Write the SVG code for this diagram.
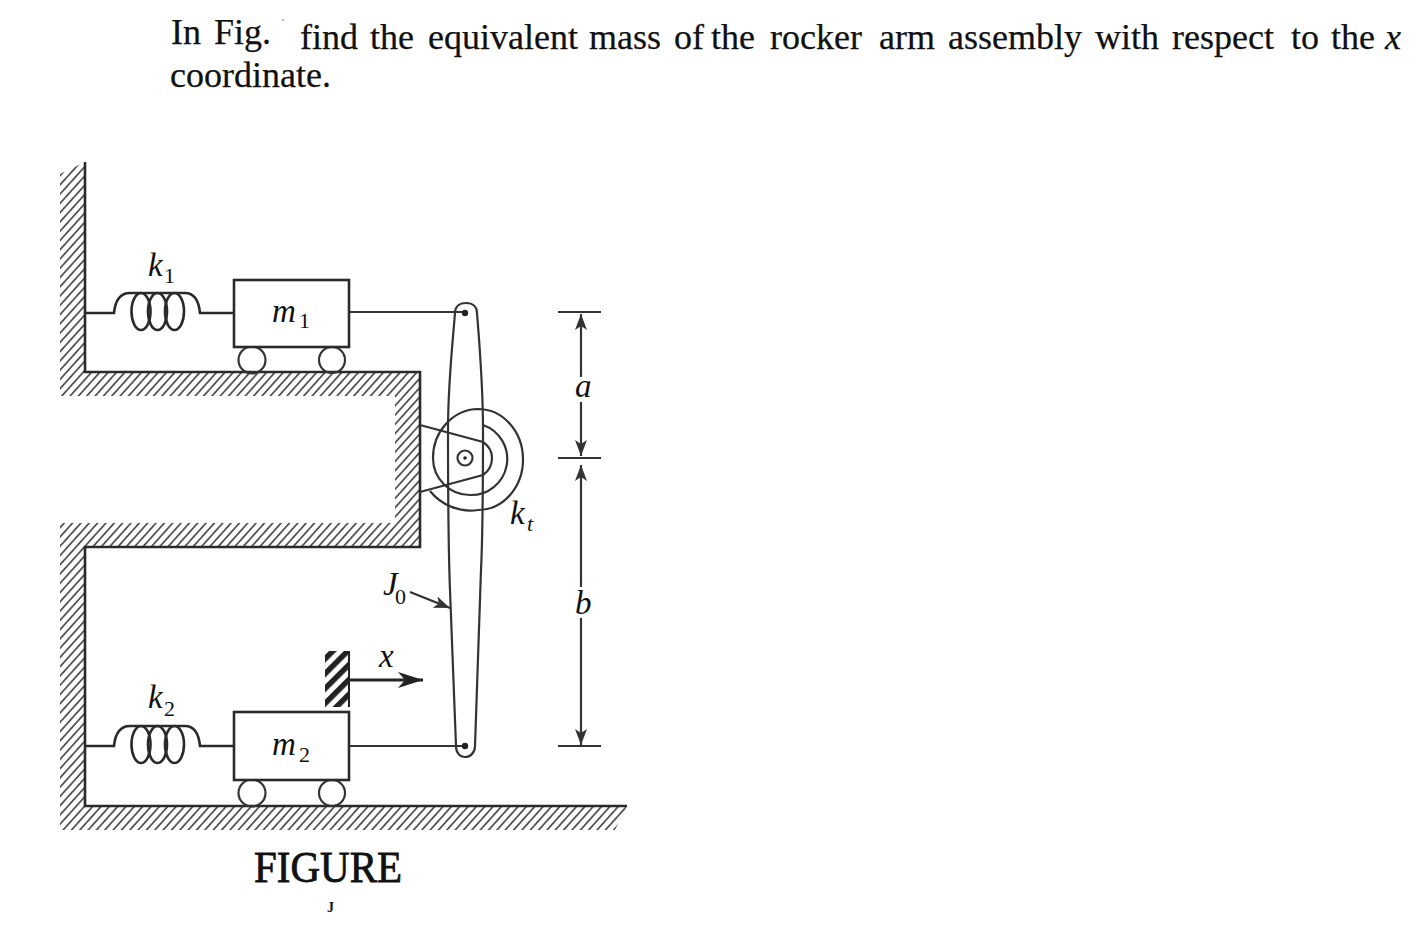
<svg xmlns="http://www.w3.org/2000/svg" width="1422" height="929" viewBox="0 0 1422 929">
<style>
.t{font-family:"Liberation Serif",serif;fill:#111}
.h{font-size:36px;stroke:#111;stroke-width:.25}
.i{font-style:italic;font-size:33px}
.s{font-size:22px}
.l{fill:none;stroke:#333;stroke-width:2.2}
.w{fill:none;stroke:#2a2a2a;stroke-width:2.6}
</style>
<defs>
<pattern id="hatch" width="6.2" height="6.2" patternUnits="userSpaceOnUse" patternTransform="rotate(42)"><rect x="0" y="0" width="1.8" height="6.2" fill="#555"/></pattern>
<pattern id="hatch2" width="10.5" height="10.5" patternUnits="userSpaceOnUse" patternTransform="rotate(45)"><rect x="0" y="0" width="5.5" height="10.5" fill="#222"/></pattern>
<marker id="a" viewBox="0 0 16 12" refX="16" refY="6" markerWidth="16" markerHeight="12" markerUnits="userSpaceOnUse" orient="auto"><path d="M0 0L16 6L0 12L4 6Z" fill="#333"/></marker>
<marker id="b" viewBox="0 0 25 16" refX="25" refY="8" markerWidth="25" markerHeight="16" markerUnits="userSpaceOnUse" orient="auto"><path d="M0 0L25 8L0 16L7 8Z" fill="#222"/></marker>
</defs>
<rect width="1422" height="929" fill="#fff"/>
<g id="heading" class="t h">
<text y="44"><tspan x="171">In</tspan><tspan x="214">Fig.</tspan></text>
<text y="49"><tspan x="300">find</tspan><tspan x="370">the</tspan><tspan x="428">equivalent</tspan><tspan x="589">mass</tspan><tspan x="674">of</tspan><tspan x="711">the</tspan><tspan x="770">rocker</tspan><tspan x="879">arm</tspan><tspan x="948">assembly</tspan><tspan x="1095">with</tspan><tspan x="1172">respect</tspan><tspan x="1291">to</tspan><tspan x="1331">the</tspan><tspan x="1385" font-style="italic">x</tspan></text>
<text x="170" y="87">coordinate.</text>
<circle cx="283" cy="20" r="1" fill="#aaa" stroke="none"/>
</g>
<g id="ground">
<path fill="url(#hatch)" d="M60 174L85 162V372H420V547H85V806H627L615 830H60V523H395V396H60Z"/>
<path class="w" d="M85 162V372H420V547H85V806H627"/>
</g>
<g id="connectors">
<path class="l" d="M349 312H465M349 746H465"/>
<path class="w" d="M85 313H114Q116 293 130 293H185Q198 293 200 313H234"/>
<path class="w" d="M85 746H114Q116 726 130 726H185Q198 726 200 746H234"/>
<path class="l" d="M410 592L450 608" marker-end="url(#a)"/>
<path d="M349 680H423" fill="none" stroke="#222" stroke-width="3.2" marker-end="url(#b)"/>
</g>
<g id="spring1" class="w"><ellipse cx="141" cy="311.500" rx="9.500" ry="18.500"/><ellipse cx="157.500" cy="311.500" rx="9.500" ry="18.500"/><ellipse cx="174.500" cy="311.500" rx="9.500" ry="18.500"/></g>
<g id="spring2" class="w"><ellipse cx="141" cy="744.500" rx="9.500" ry="18.500"/><ellipse cx="157.500" cy="744.500" rx="9.500" ry="18.500"/><ellipse cx="174.500" cy="744.500" rx="9.500" ry="18.500"/></g>
<g id="mass1"><circle class="l" cx="252" cy="360" r="13.500"/><circle class="l" cx="332" cy="360" r="13"/><rect class="w" x="234" y="280" width="115" height="67" style="fill:#fff"/></g>
<g id="mass2"><circle class="l" cx="252" cy="793" r="13.500"/><circle class="l" cx="332" cy="793" r="13"/><rect class="w" x="234" y="712" width="115" height="68" style="fill:#fff"/></g>
<g id="marker-block"><rect x="325" y="651" width="24" height="56" fill="url(#hatch2)"/><path d="M349 651V707" stroke="#222" stroke-width="2"/></g>
<g id="rocker">
<path class="l" d="M420 425L483 442Q492 448 492 458Q492 469 483 475L420 492"/>
<path class="l" d="M483 425A36 36 0 0 1 470 495A37 37 0 0 1 433 458A46 49 0 0 1 478 409A45 50.500 0 0 1 478 510A52 52 0 0 1 430 491"/>
<path class="l" d="M455 313C455 307 459 303 466 303C473 303 477 307 477 313C480 350 483 385 483 430C483 480 483 530 481 570L475 746C475 753 470 757 465 757C460 757 456 753 456 746L450 590C448 540 448 480 448 430C448 385 452 350 455 313Z"/>
<circle cx="465" cy="313" r="3.200" fill="#222"/><circle cx="465" cy="746" r="3.200" fill="#222"/>
<circle class="l" cx="465" cy="458" r="7.500"/><circle cx="465" cy="458" r="1.800" fill="#222"/>
</g>
<g id="dimensions">
<path class="l" d="M558 312H601M558 458H601M558 746H601"/>
<path class="l" d="M581 377V314" marker-end="url(#a)"/>
<path class="l" d="M581 402V456" marker-end="url(#a)"/>
<path class="l" d="M581 587V465" marker-end="url(#a)"/>
<path class="l" d="M581 618V745" marker-end="url(#a)"/>
</g>
<g id="labels" class="t">
<text class="i" x="148" y="276">k</text><text class="s" x="164" y="283">1</text>
<text class="i" x="148" y="708">k</text><text class="s" x="164" y="716">2</text>
<text class="i" x="272" y="322">m</text><text class="s" x="299" y="328">1</text>
<text class="i" x="272" y="755">m</text><text class="s" x="299" y="762">2</text>
<text class="i" x="510" y="524">k</text><text class="s" font-style="italic" x="527" y="531">t</text>
<text class="i" x="383" y="595">J</text><text class="s" x="395" y="604">0</text>
<text class="i" x="379" y="667">x</text>
<text class="i" x="575" y="397">a</text>
<text class="i" x="575" y="614">b</text>
<text x="254" y="882" font-size="44" textLength="148" lengthAdjust="spacingAndGlyphs" stroke="#111" stroke-width=".8">FIGURE</text>
<text x="327" y="912" font-size="14" font-weight="bold">J</text>
</g>
</svg>
